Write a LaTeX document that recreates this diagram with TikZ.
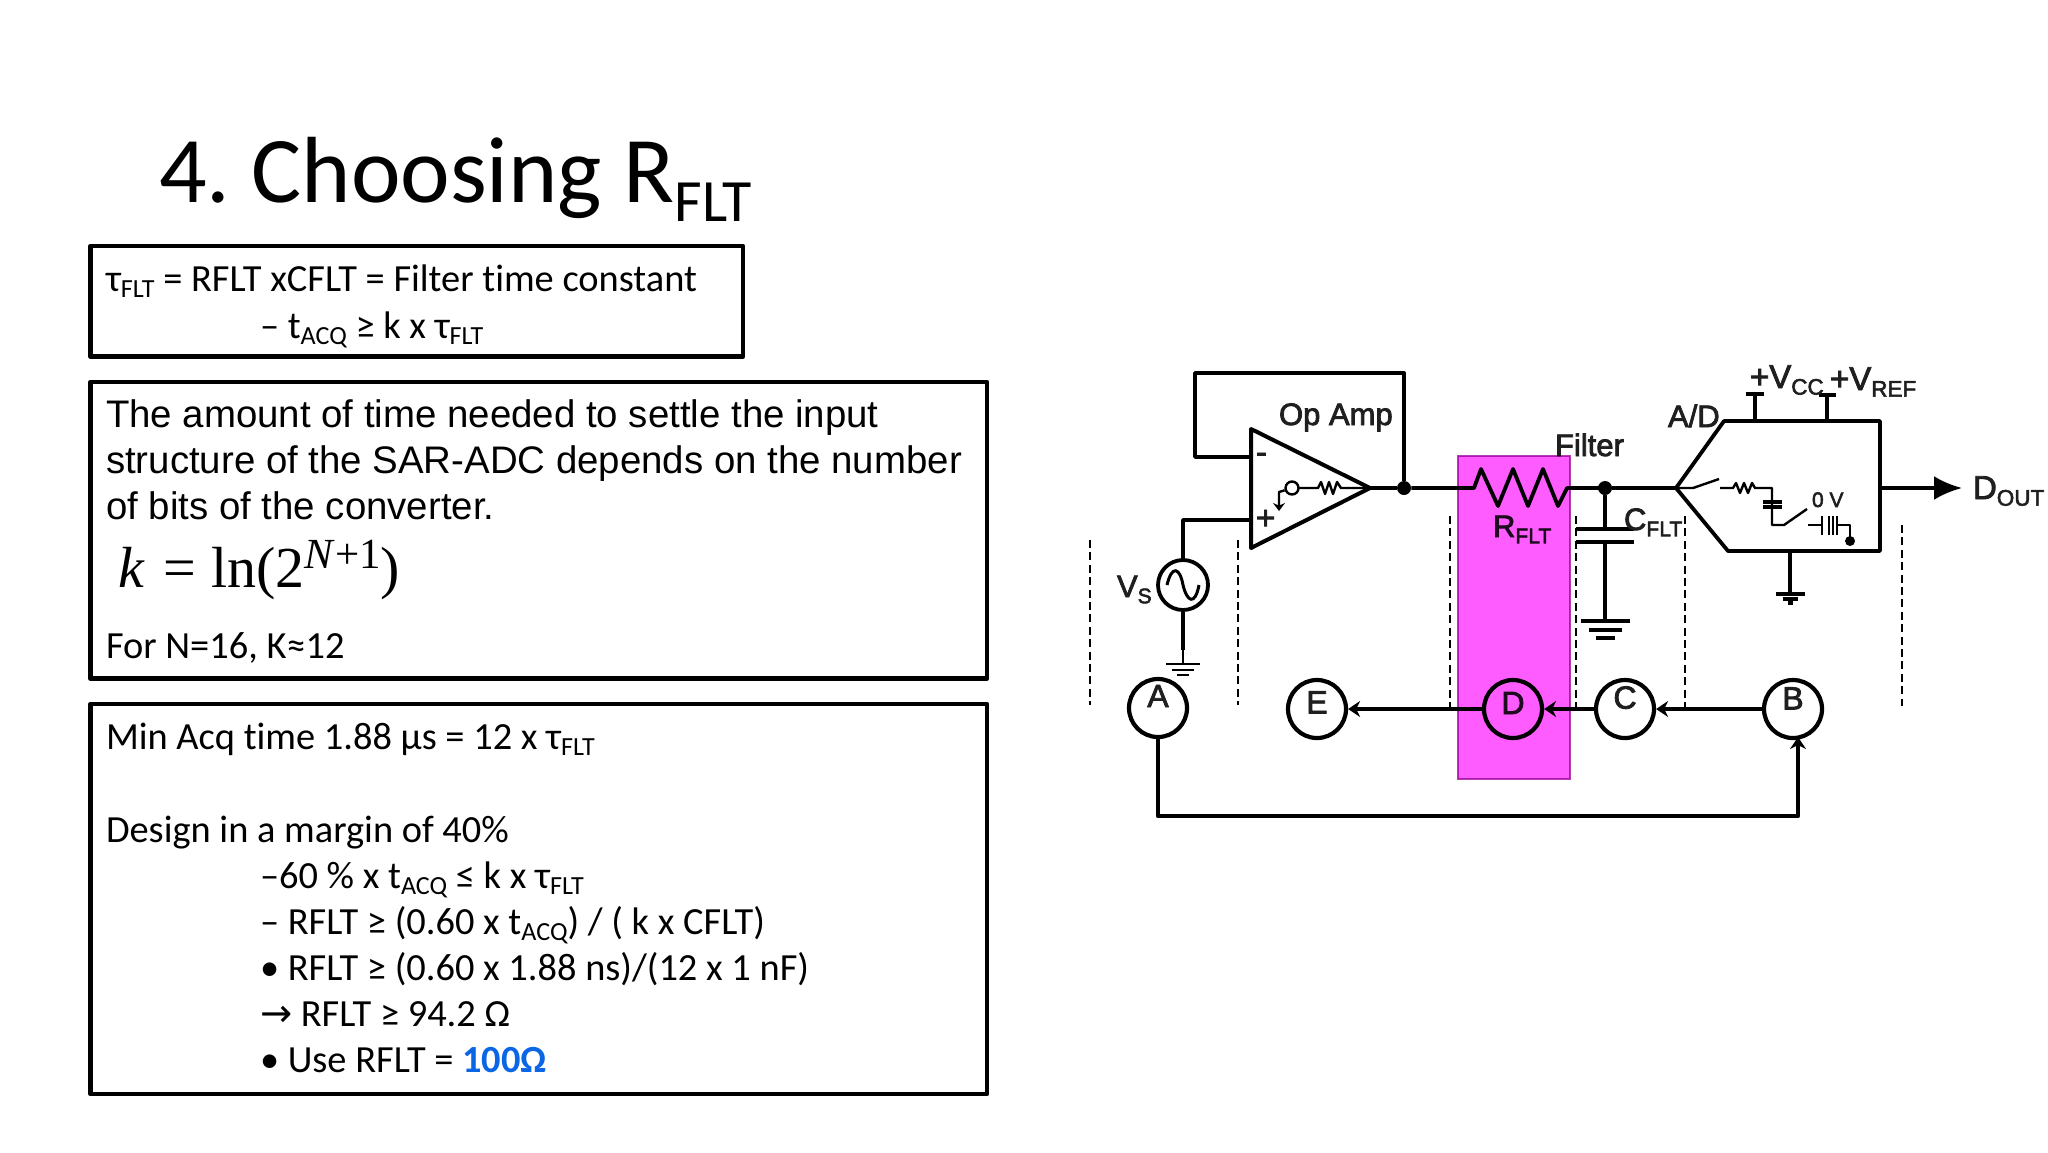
\documentclass[tikz,border=0pt]{standalone}
\usepackage{fontspec}
\setmainfont{Carlito}[Ligatures=NoCommon]
\newfontfamily\arial{Liberation Sans}
\newfontfamily\arialm{Liberation Sans}[FakeBold=2.5]
\newfontfamily\tnr{Liberation Serif}
\newfontfamily\dvs{DejaVu Sans}
\usetikzlibrary{arrows.meta}
\makeatletter
\newcommand{\sbt}[1]{\raisebox{-0.38ex}{\fontsize{\fpeval{0.68*\f@size}}{1}\selectfont #1}}
\newcommand{\spt}[1]{\raisebox{0.7ex}{\fontsize{\fpeval{0.74*\f@size}}{1}\selectfont #1}}
\makeatother
\definecolor{pinkf}{HTML}{FF5CFF}
\definecolor{pinke}{HTML}{B040B0}
\definecolor{bluet}{HTML}{0B66E6}
\tikzset{
  txt/.style={anchor=base west,inner sep=0pt,outer sep=0pt,font=\fontsize{19.2}{24}\selectfont},
  atxt/.style={anchor=base west,inner sep=0pt,outer sep=0pt,font=\arial\fontsize{19.2}{24}\selectfont},
  lbl/.style={anchor=base west,inner sep=0pt,outer sep=0pt,text=black!88,font=\arialm\fontsize{15.5}{18}\selectfont},
  lblb/.style={lbl,font=\arialm\fontsize{16.5}{18}\selectfont},
  box/.style={draw=black,line width=2.3pt,line join=round},
  wire/.style={draw=black,line width=1.9pt,line join=round},
  thin wire/.style={draw=black,line width=1pt,line join=round},
  ic/.style={draw=black,line width=1.2pt,line join=round},
  dashv/.style={draw=black,line width=1.2pt,dash pattern=on 4pt off 2.2pt},
  pt/.style={circle,fill=black,inner sep=0pt,minimum size=7pt},
  meas/.style={circle,draw=black,line width=2.1pt,inner sep=0pt,minimum size=29pt,font=\arialm\fontsize{16}{18}\selectfont,text=black!88},
  tip/.style={-{Stealth[length=6pt,width=8pt]}},
}
\begin{document}
\frenchspacing
\begin{tikzpicture}[x=0.5pt,y=-0.5pt]
\useasboundingbox (0,0) rectangle (2048,1152);
\fill[white] (0,0) rectangle (2048,1152);
% title
\node[txt,font=\fontsize{47}{50}\selectfont] (title) at (159,202) {4. Choosing R\raisebox{-0.43ex}{\fontsize{30}{34}\selectfont FLT}};
% boxes
\draw[box] (90.5,246) rectangle (743,356.5);
\draw[box] (90.5,382) rectangle (987,678.5);
\draw[box] (90.5,704) rectangle (987,1094);
\node[txt] (t1) at (106,291) {τ\sbt{FLT} = RFLT xCFLT = Filter time constant};
\node[txt] (t2) at (260,338) {– t\sbt{ACQ} ≥ k x τ\sbt{FLT}};
\node[atxt] (a1) at (106,427) {The amount of time needed to settle the input};
\node[atxt] (a2) at (106,473) {structure of the SAR-ADC depends on the number};
\node[atxt] (a3) at (106,519) {of bits of the converter.};
\node[txt,font=\tnr\fontsize{29}{30}\selectfont] (f1) at (118,587) {\textit{k}\,\,= ln(2\spt{\textit{N}+1})};
\node[txt] (a4) at (106,658) {For N=16, K≈12};
\node[txt] (m1) at (106,749) {Min Acq time 1.88 μs = 12 x τ\sbt{FLT}};
\node[txt] (m2) at (106,842) {Design in a margin of 40\%};
\node[txt] (m3) at (260,888) {–60 \% x t\sbt{ACQ} ≤ k x τ\sbt{FLT}};
\node[txt] (m4) at (260,934) {– RFLT ≥ (0.60 x t\sbt{ACQ}) / ( k x CFLT)};
\node[txt] (m5) at (260,980) {• RFLT ≥ (0.60 x 1.88 ns)/(12 x 1 nF)};
\node[txt] (m6) at (260,1026) {{\dvs →} RFLT ≥ 94.2 Ω};
\node[txt] (m7) at (260,1072) {• Use RFLT = \textcolor{bluet}{\textbf{100Ω}}};
% measure nodes
\node[meas] (A) at (1158,708) {\smash{\raisebox{0.5pt}{A}}};
\node[meas] (E) at (1317,709) {\smash{\raisebox{-2.2pt}{E}}};
\node[meas] (D) at (1513,709) {\smash{\raisebox{-2.5pt}{D}}};
\node[meas] (C) at (1625,709) {\smash{\raisebox{0.2pt}{C}}};
\node[meas] (B) at (1793,709) {\smash{\raisebox{-0.2pt}{B}}};
\draw[wire,tip] (D) -- (E);
\draw[wire,tip] (C) -- (D);
\draw[wire,tip] (B) -- (C);
\draw[wire,tip,line width=2.4pt] (A) |- (1798,816) -- (1798,737);
% dashed guides
\foreach \x/\a/\b in {1090/540/705,1238/540/705,1450/516/709,1576/516/709,1685/516/709,1902/525/706}
  \draw[dashv] (\x,\a) -- (\x,\b);
% op amp
\coordinate (oL1) at (1251,429);
\coordinate (oL2) at (1251,548);
\coordinate (oT) at (1370,488);
\draw[wire,line width=2pt] (oL1) -- (oL2) -- (oT) -- cycle;
\node[pt] (j1) at (1404,488) {};
\draw[wire] (oT) -- (j1);
\draw[wire] (j1) -- (1404,373) -- (1195,373) -- (1195,457) -- (1251,457);
\draw[wire] (1251,520) -- (1183,520) -- (1183,560);
\node[circle,draw=black,line width=1.9pt,inner sep=0pt,minimum size=25pt] (Vs) at (1183,585) {};
\draw[line width=1.5pt] (1167,585) .. controls (1172,564) and (1180,568) .. (1183,585) .. controls (1187,602) and (1195,606) .. (1199,585);
\draw[wire,line width=2.2pt] (Vs) -- (1183,650);
\draw[thin wire] (1183,650) -- (1183,664);
\draw[line width=.8pt] (1166,664) -- (1200,664) (1172,670) -- (1194,670) (1177,675) -- (1189,675);
\node[lbl] (Vl) at (1117,597) {V\sbt{S}};
\node[lbl] (OA) at (1279,425) {Op Amp};
\node[lblb] (mi) at (1256,463) {-};
\node[lblb] (pl) at (1256,529) {+};
% op amp internals
\draw[ic] (1298,488) -- (1318,488) -- (1321,482) -- (1325,494) -- (1329,482) -- (1333,494) -- (1337,482) -- (1341,488) -- (oT);
\node[circle,draw=black,line width=1.2pt,inner sep=0pt,minimum size=6.5pt] (sw) at (1292,488) {};
\draw[ic,-{Stealth[length=4pt,width=6pt]}] (sw) -- (1279,492) -- (1279,511);
% filter
\draw[wire] (j1) -- (1474,488) -- (1481,469) -- (1498,506) -- (1513,469) -- (1528,506) -- (1543,469) -- (1558,506) -- (1567,488) -- (1604,488);
\node[pt] (j2) at (1605,488) {};
\draw[wire] (j2) -- (1605,529) (1576,529) -- (1634,529) (1576,542) -- (1634,542) (1605,542) -- (1605,621);
\draw[wire] (1581,621) -- (1630,621);
\draw[wire] (1589,630) -- (1622,630);
\draw[wire] (1596,638) -- (1615,638);
\node[lbl] (Fl) at (1555,456) {Filter};
\node[lbl] (Rl) at (1493,537) {R\sbt{FLT}};
\node[lbl] (Cl) at (1624,530) {C\sbt{FLT}};
% A/D
\coordinate (d1) at (1676,488);
\draw[wire] (j2) -- (d1);
\draw[wire] (d1) -- (1724,421) -- (1880,421) -- (1880,551) -- (1728,551) -- cycle;
\draw[wire] (1755,421) -- (1755,394) (1746,394) -- (1764,394);
\draw[wire] (1827,421) -- (1827,395) (1819,395) -- (1836,395);
\node[lblb] (VCC) at (1750,388) {+V\sbt{CC}};
\node[lblb] (VRF) at (1830,390) {+V\sbt{REF}};
\node[lbl] (AD) at (1668,427) {A/D};
\draw[wire] (1790,551) -- (1790,594);
\draw[wire] (1776,594) -- (1805,594);
\draw[wire] (1783,599) -- (1798,599);
\draw[wire] (1788,603) -- (1793,603);
\coordinate (dq) at (1962,488);
\draw[wire,-{Latex[length=14pt,width=12pt]}] (1880,488) -- (dq);
\node[lblb] (Dl) at (1973,499) {D\sbt{OUT}};
\node[lbl,font=\arialm\fontsize{10.5}{12}\selectfont] (ov) at (1812,507) {0 V};
% A/D internals
\draw[ic] (d1) -- (1693,488) -- (1719,479);
\draw[ic] (1720,488) -- (1733,488) -- (1736,483) -- (1740,493) -- (1744,483) -- (1748,493) -- (1752,483) -- (1755,488) -- (1772,488) -- (1772,525) -- (1784,525) -- (1807,509);
\draw[line width=2pt] (1763,502) -- (1782,502) (1763,507) -- (1782,507);
\draw[ic] (1808,525) -- (1822,525) (1822,516) -- (1822,535) (1829,516) -- (1829,535) (1833,516) -- (1833,535) (1837,516) -- (1837,535) (1837,525) -- (1850,525) -- (1850,540);
\fill (1850,541) circle (2.5pt);
% pink filter block on top, multiplied
\begin{scope}[blend mode=multiply]
\fill[pinkf] (1458,456) rectangle (1570,779);
\draw[pinke,line width=.6pt] (1458,456) rectangle (1570,779);
\end{scope}
\end{tikzpicture}
\end{document}
